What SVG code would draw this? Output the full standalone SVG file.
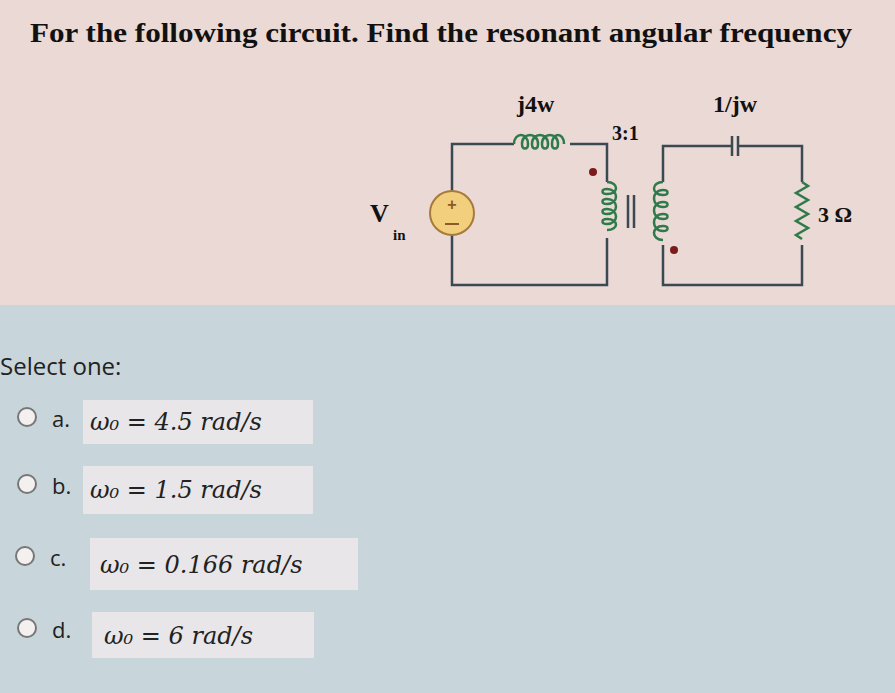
<svg xmlns="http://www.w3.org/2000/svg" width="895" height="693" viewBox="0 0 895 693">
<style>
.w{fill:none;stroke:#3a4a52;stroke-width:2.5}
.c{fill:none;stroke:#2e7a4a;stroke-width:2.5}
.t{font-family:"Liberation Serif",serif;font-weight:bold;fill:#111}
.s{font-family:"Open Sans",sans-serif;fill:#222}
.m{font-family:"DejaVu Serif",serif;font-style:italic;fill:#222;font-size:24px}
.r{fill:#f4f0ef;stroke:#777;stroke-width:2}
.box{fill:#e8e6e8}
</style>
<rect width="895" height="693" fill="#c8d5db"/>
<rect width="895" height="305" fill="#ead9d5"/>
<text class="t" x="30" y="42" font-size="28" textLength="822" lengthAdjust="spacingAndGlyphs">For the following circuit. Find the resonant angular frequency</text>
<g id="connectors">
<path class="w" d="M452 191V144H514M570 144H607V182M607 238V285H452V235"/>
<path class="w" d="M663 182V146H732M738 146H802V182M802 245V285H663V245"/>
<path class="w" d="M732 136V156M738 136V156"/>
<path class="w" d="M628 195V228M634 195V228"/>
</g>
<g id="inductor1"><path class="c" d="M514 144c0-12 14-12 14 0c0 6-6 6-6 0c0-12 16-12 16 0c0 6-6 6-6 0c0-12 16-12 16 0c0 6-6 6-6 0c0-12 16-12 16 0c0 6-6 6-6 0c0-12 12-12 12 0"/></g>
<g id="primary"><path class="c" d="M607 182c12 0 12 12 0 12c-6 0-6-5 0-5c12 0 12 15 0 15c-6 0-6-5 0-5c12 0 12 15 0 15c-6 0-6-5 0-5c12 0 12 15 0 15c-6 0-6-5 0-5c12 0 12 11 0 11"/></g>
<g id="secondary"><path class="c" d="M663 182c-12 0-12 13 0 13c6 0 6-5 0-5c-12 0-12 17 0 17c6 0 6-5 0-5c-12 0-12 17 0 17c6 0 6-5 0-5c-12 0-12 17 0 17c6 0 6-5 0-5c-12 0-12 14 0 14"/></g>
<g id="resistor"><path class="c" d="M802 182l6 4-12 7 12 7-12 7 12 7-12 7 12 7-12 7 6 4"/></g>
<g id="source"><circle cx="452" cy="213" r="22" fill="#f2cf7d" stroke="#a77a3c" stroke-width="2"/>
<text x="452" y="210" font-size="16" text-anchor="middle" fill="#8a5a2a" font-family="Liberation Sans,sans-serif" font-weight="bold">+</text>
<path d="M445 224h14" stroke="#8a5a2a" stroke-width="2"/></g>
<circle cx="593" cy="172" r="4" fill="#7a1c1c"/>
<circle cx="674" cy="250" r="4" fill="#7a1c1c"/>
<text class="t" x="517" y="112" font-size="24">j4w</text>
<text class="t" x="713" y="112" font-size="24">1/jw</text>
<text class="t" x="612" y="140" font-size="20" font-weight="normal">3:1</text>
<text class="t" x="370" y="222" font-size="26">V</text>
<text class="t" x="393" y="240" font-size="15">in</text>
<text class="t" x="818" y="222" font-size="22">3 Ω</text>
<text class="s" x="0" y="375" font-size="24">Select one:</text>
<g id="opt-a"><circle class="r" cx="27" cy="417" r="9"/><text class="s" x="52" y="427" font-size="22">a.</text><rect class="box" x="83" y="400" width="230" height="44"/><text class="m" x="90" y="430">ω₀ = 4.5 rad/s</text></g>
<g id="opt-b"><circle class="r" cx="27" cy="484" r="9"/><text class="s" x="52" y="494" font-size="22">b.</text><rect class="box" x="83" y="466" width="230" height="48"/><text class="m" x="90" y="498">ω₀ = 1.5 rad/s</text></g>
<g id="opt-c"><circle class="r" cx="25" cy="556" r="9"/><text class="s" x="50" y="566" font-size="22">c.</text><rect class="box" x="90" y="538" width="268" height="52"/><text class="m" x="100" y="573">ω₀ = 0.166 rad/s</text></g>
<g id="opt-d"><circle class="r" cx="27" cy="628" r="9"/><text class="s" x="52" y="638" font-size="22">d.</text><rect class="box" x="92" y="612" width="222" height="46"/><text class="m" x="104" y="644">ω₀ = 6 rad/s</text></g>
</svg>
